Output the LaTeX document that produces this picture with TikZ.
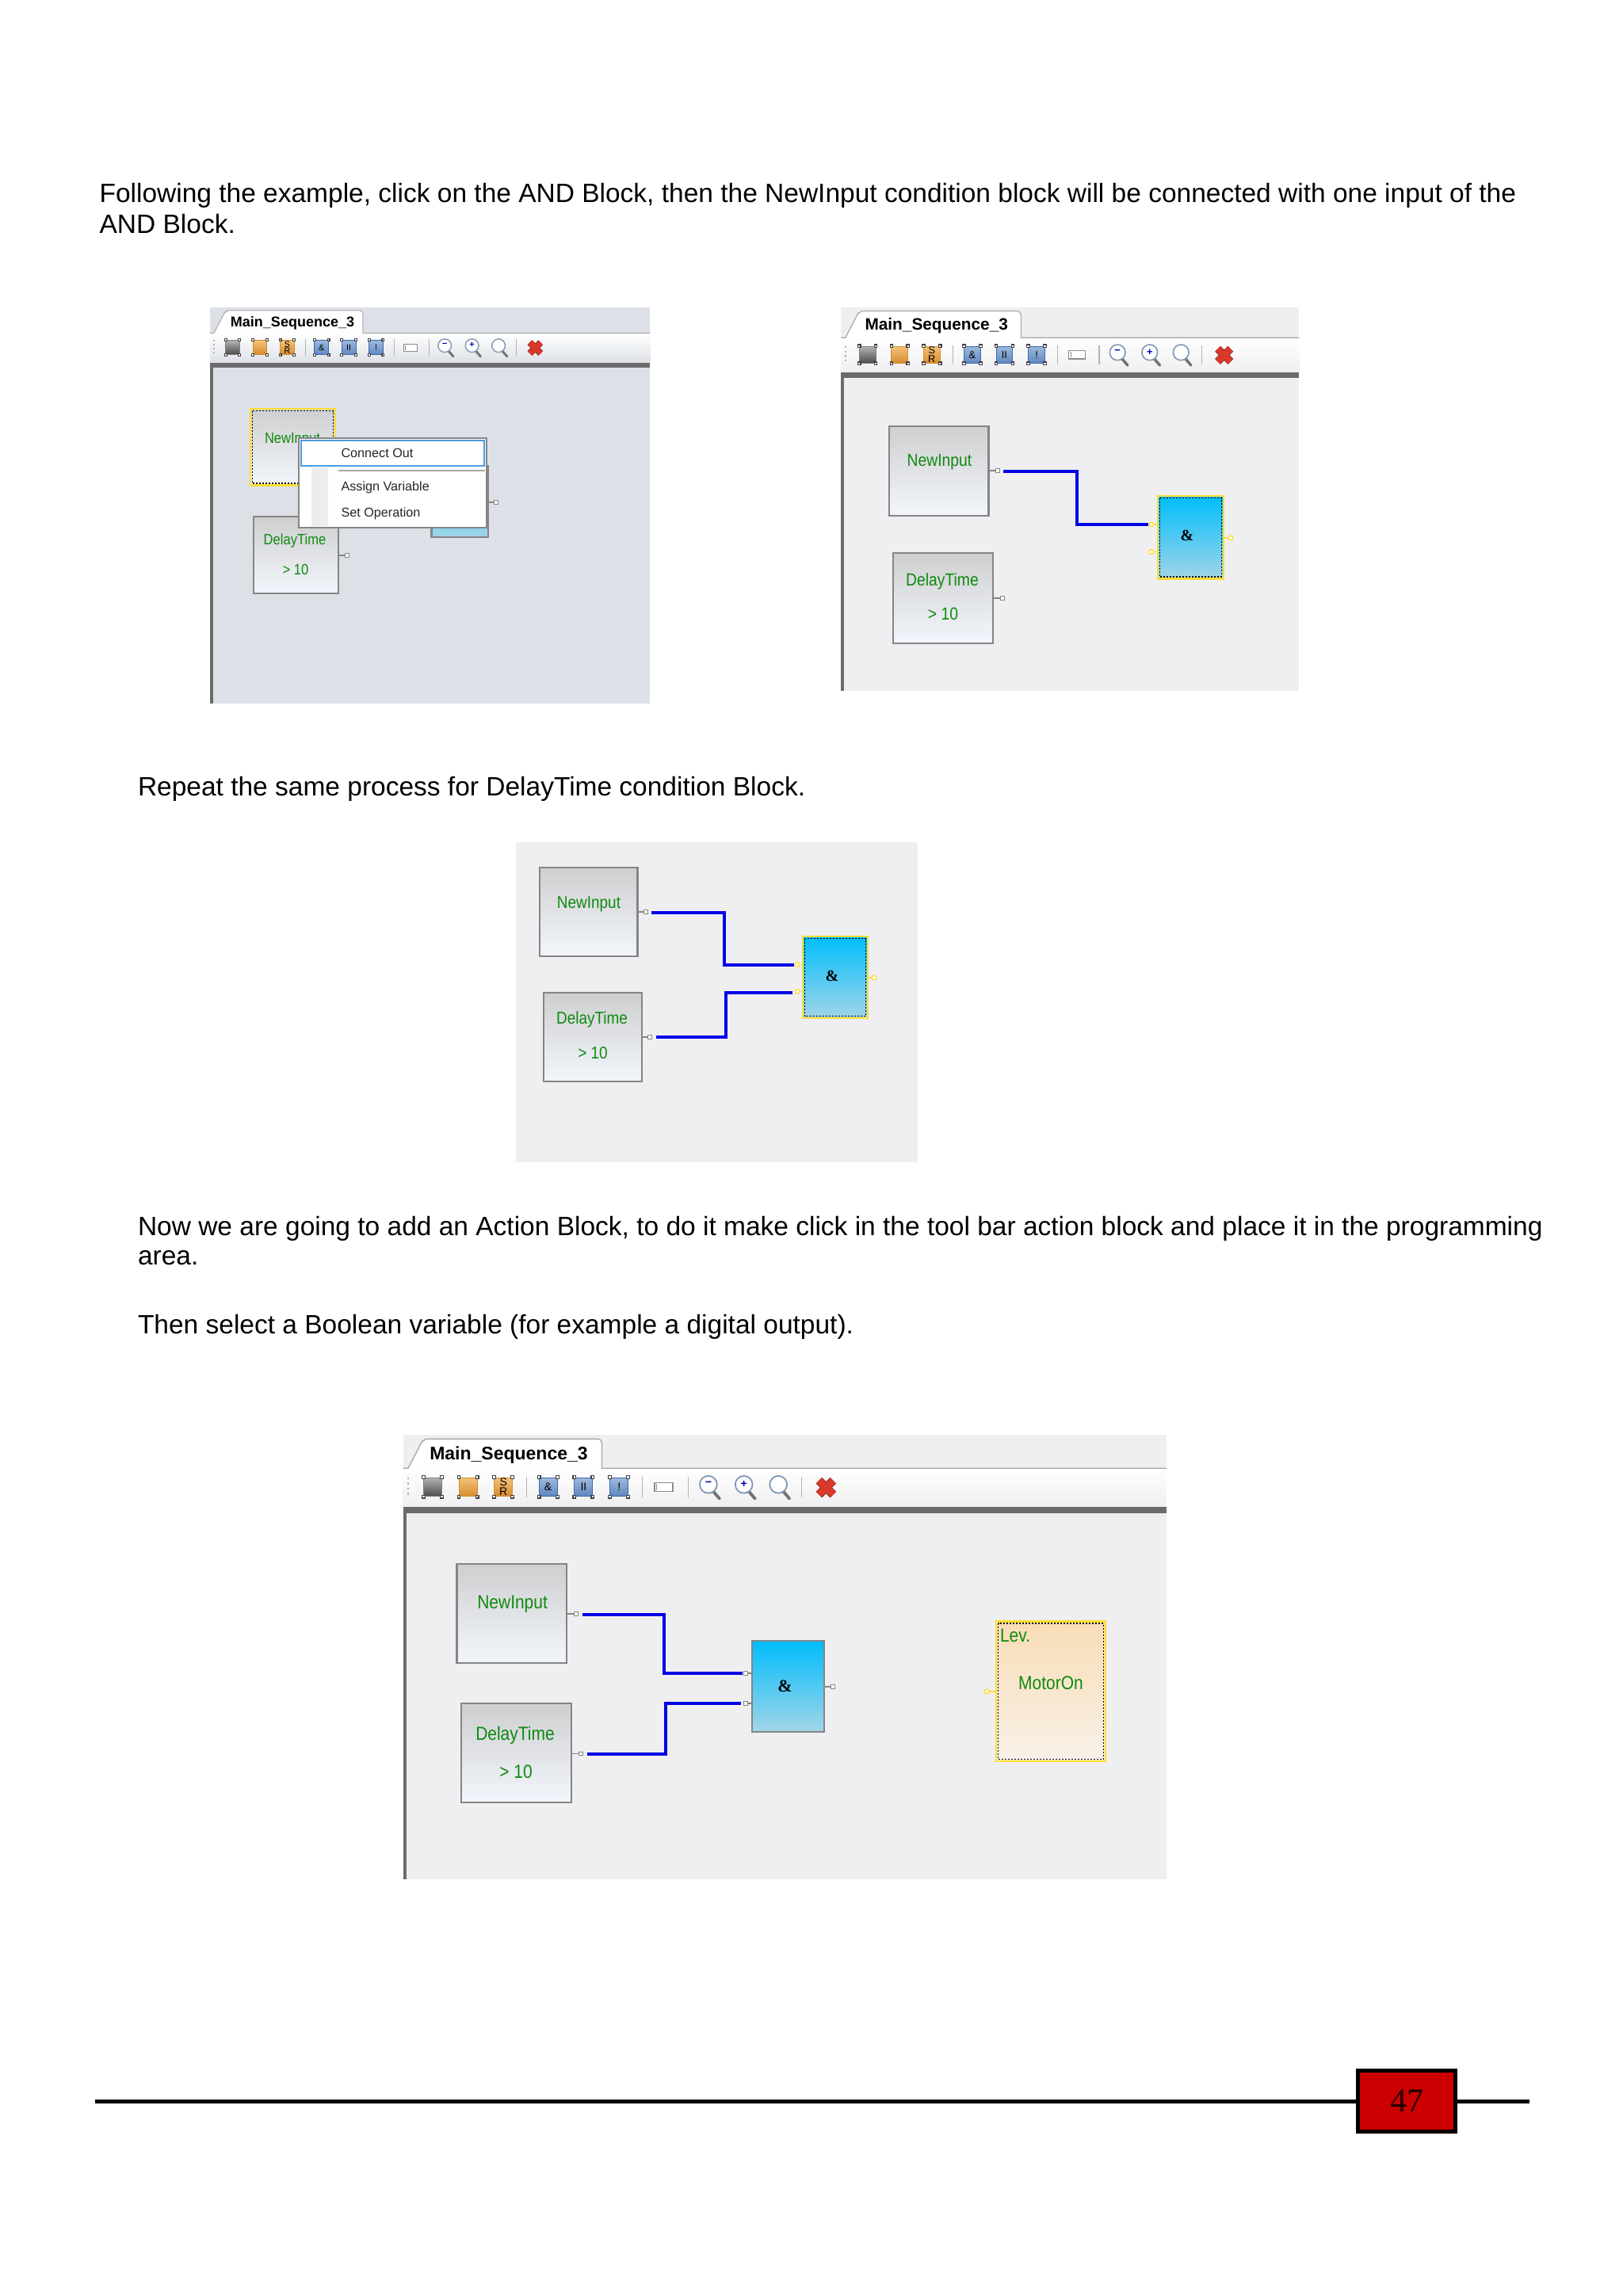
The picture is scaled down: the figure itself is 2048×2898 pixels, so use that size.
\documentclass[tikz,border=0pt]{standalone}
\usepackage{fontspec}
\setmainfont{Liberation Sans}
\newfontfamily\serifnum{Liberation Serif}
\usetikzlibrary{calc}
\definecolor{canvasA}{HTML}{DDE1E7}
\definecolor{canvasB}{HTML}{EFEFF1}
\definecolor{barGrey}{HTML}{6B6B6D}
\definecolor{edgeGrey}{HTML}{858585}
\definecolor{lineGrey}{HTML}{A5A5A5}
\definecolor{labGreen}{HTML}{0F8A0F}
\definecolor{wireBlue}{HTML}{0000E6}
\definecolor{selYellow}{HTML}{FFDD33}
\definecolor{andTop}{HTML}{00BDFC}
\definecolor{andBot}{HTML}{A2D5E8}
\definecolor{condTop}{HTML}{CFCFD0}
\definecolor{condBot}{HTML}{F2F6FC}
\definecolor{actTop}{HTML}{F8DDB6}
\definecolor{actBot}{HTML}{F8F1E8}
\definecolor{pageRed}{HTML}{CC0000}
\definecolor{menuBlue}{HTML}{4A9BE0}
\definecolor{crossRed}{HTML}{D8392B}
\definecolor{magBlue}{HTML}{7F98B5}
\definecolor{iconOrTop}{HTML}{F2C27A}
\definecolor{iconOrBot}{HTML}{D68C2E}
\definecolor{iconBlTop}{HTML}{9DB9DC}
\definecolor{iconBlBot}{HTML}{5F88BE}
\definecolor{iconBlEdge}{HTML}{3F66B0}
\tikzset{
  x=0.5pt,y=-0.5pt,
  para/.style={anchor=base west,inner sep=0,outer sep=0,font=\fontsize{16.75}{20}\selectfont},
  blockbase/.style={rectangle,inner sep=0,outer sep=0,line width=1.1pt},
  condblock/.style={blockbase,draw=edgeGrey,top color=condTop,bottom color=condBot},
  condsel/.style={blockbase,draw=selYellow,top color=condTop,bottom color=condBot},
  andblock/.style={blockbase,draw=edgeGrey,top color=andTop,bottom color=andBot},
  andsel/.style={blockbase,draw=selYellow,top color=andTop,bottom color=andBot},
  actsel/.style={blockbase,draw=selYellow,top color=actTop,bottom color=actBot},
  seldots/.style={draw=black,line width=0.8pt,dash pattern=on 1pt off 1pt},
  wire/.style={draw=wireBlue,line width=2pt,line join=miter},
  portg/.style={rectangle,draw=edgeGrey,fill=white,line width=0.6pt,minimum size=2.2pt,inner sep=0},
  porty/.style={circle,draw=selYellow,fill=white,line width=0.7pt,minimum size=2.8pt,inner sep=0},
  plineg/.style={draw=edgeGrey,line width=0.8pt},
  pliney/.style={draw=selYellow,line width=0.8pt},
  lab/.style={inner sep=0,outer sep=0,text=labGreen},
  menutxt/.style={inner sep=0,outer sep=0,anchor=west,text=black!85,font=\fontsize{8.1}{9}\selectfont},
}
\newcommand\myblk[6]{\node[#1,minimum width={(#5-#3)*0.5pt},minimum height={(#6-#4)*0.5pt}] (#2) at ({(#3+#5)/2},{(#4+#6)/2}) {};}
\newcommand\mydots[1]{\draw[seldots] ([xshift=1.3pt,yshift=-1.3pt]#1.north west) rectangle ([xshift=-1.3pt,yshift=1.3pt]#1.south east);}
\newcommand\myport[4]{\node[port#1] (#2) at (#3,#4) {};}
\newcommand\mylab[5]{\node[lab,yshift=-1pt,font=\fontsize{#4}{#4}\selectfont] (#1) at (#2,#3) {\scalebox{.92}[1.05]{#5}};}
\newcommand\myicon[6]{%
  \shade[top color=#3,bottom color=#4] (#2-9,42.5) rectangle (#2+9,60.5);
  \draw[#5,line width=.5pt] (#2-9,42.5) rectangle (#2+9,60.5);
  \foreach \hx in {-9,9}{\foreach \hy in {42,61}{
    \draw[black!75,fill=white,line width=.55pt] (#2+\hx-1.5,\hy-1.5) rectangle (#2+\hx+1.5,\hy+1.5);}}
  \node[inner sep=0,text=black,align=center,font=\fontsize{\myfs}{\myfs}\selectfont] (#1) at (#2,51.5) {#6};
}
\newcommand\mymag[3]{%
  \draw[black!55,line width=\mys*1.5pt,line cap=round] (#2+4,56) -- (#2+10,63);
  \draw[magBlue,fill=white,line width=\mys*.7pt] (#2-1,49) circle (8.5);
  \node[inner sep=0,text=blue!70!black,font=\bfseries\fontsize{\myfs}{\myfs}\selectfont] (#1) at (#2-1,48.5) {#3};
}
\newcommand\mychrome[9]{%
\begin{scope}[shift={(#2,#3)},x=#6pt,y=-#6pt]
  \pgfmathsetmacro\mys{#6/0.5}
  \pgfmathsetmacro\myfs{5.5*\mys}
  \fill[#7] (0,0) rectangle (#4,#5);
  \shade[top color=white,bottom color=#9] (0,33) rectangle (#4,71);
  \fill[white] (0,33) -- (5,33) -- (19,6) to[out=-60,in=180] (23,4) -- (192,4) to[out=0,in=90] (196,8) -- (196,33) -- cycle;
  \draw[lineGrey,line width=\mys*.5pt] (0,33) -- (5,33) -- (19,6) to[out=-60,in=180] (23,4) -- (192,4) to[out=0,in=90] (196,8) -- (196,33) -- (#4,33);
  \node[inner sep=0,anchor=west,text=black,yshift=-1pt,font=\bfseries\fontsize{#8}{#8}\selectfont] (#1title) at (26,18.5) {Main\_Sequence\_3};
  \foreach \gy in {42,47,52,57}{\fill[black!30] (4,\gy) rectangle (6,\gy+2);}
  \foreach \sx in {122,236,281,393}{\draw[black!30,line width=\mys*.5pt] (\sx,41) -- (\sx,62);}
  \myicon{#1ia}{29}{black!30}{black!70}{black!50}{}
  \myicon{#1ib}{64}{iconOrTop}{iconOrBot}{iconOrBot}{}
  \myicon{#1ic}{99}{iconOrTop}{iconOrBot}{iconOrBot}{\fontsize{\myfs}{\myfs}\selectfont S\\[-1pt]R}
  \myicon{#1id}{143}{iconBlTop}{iconBlBot}{iconBlEdge}{\&}
  \myicon{#1ie}{178}{iconBlTop}{iconBlBot}{iconBlEdge}{II}
  \myicon{#1if}{213}{iconBlTop}{iconBlBot}{iconBlEdge}{!}
  \draw[black!45,fill=white,line width=\mys*.5pt] (248,47) rectangle (266,56);
  \draw[black!45,line width=\mys*.4pt] (250,48.5) -- (250,54.5);
  \mymag{#1ma}{302}{\textminus}
  \mymag{#1mb}{337}{+}
  \mymag{#1mc}{371}{}
  \draw[crossRed!70!black,line width=\mys*4.2pt] (410,45) -- (424,59) (424,45) -- (410,59);
  \draw[crossRed,line width=\mys*3.4pt] (410,45) -- (424,59) (424,45) -- (410,59);
  \fill[barGrey] (0,71) rectangle (#4,77);
  \fill[barGrey] (0,71) rectangle (3.6,#5);
\end{scope}}
\begin{document}
\begin{tikzpicture}
\useasboundingbox (0,0) rectangle (2048,2898);
\fill[white] (0,0) rectangle (2048,2898);

\node[para] (t1) at (125.6,255) {Following the example, click on the AND Block, then the NewInput condition block will be connected with one input of the};
\node[para] (t2) at (125.6,294) {AND Block.};
\node[para] (t3) at (174,1004) {Repeat the same process for DelayTime condition Block.};
\node[para] (t4) at (174,1559) {Now we are going to add an Action Block, to do it make click in the tool bar action block and place it in the programming};
\node[para] (t5) at (174,1596) {area.};
\node[para] (t6) at (174,1683) {Then select a Boolean variable (for example a digital output).};

% --- screenshot 1
\mychrome{a}{265}{388}{564.5}{508.6}{0.492}{canvasA}{9}{canvasA}
\myblk{condsel}{a1}{316}{516}{423}{612.5}
\mydots{a1}
\node[lab,anchor=west,yshift=-1pt,font=\fontsize{9}{9}\selectfont] (a1t) at (334,553) {\scalebox{.92}[1.05]{NewInput}};
\myblk{condblock}{a2}{320}{652}{427}{749}
\mylab{a2t}{372}{681}{9}{DelayTime}
\mylab{a2u}{373}{717}{9}{> 10}
\myport{g}{a2p}{438}{701}
\draw[plineg] (a2.east |- a2p) -- (a2p);
\myblk{andblock}{a3}{544.5}{588}{616}{678}
\myport{g}{a3p}{626}{634}
\draw[plineg] (a3.east |- a3p) -- (a3p);
\myblk{blockbase,draw=edgeGrey,fill=white}{am}{377}{553}{614}{666}
\fill[black!7] (393,590) rectangle (414,664);
\myblk{blockbase,draw=menuBlue,fill=white,line width=.8pt}{amh}{380}{556}{611}{588}
\coordinate (as1) at (427,594);
\coordinate (as2) at (612,594);
\draw[lineGrey,line width=.7pt] (as1) -- (as2);
\node[menutxt] (amc) at (430.5,572) {Connect Out};
\node[menutxt] (ama) at (430.5,615.5) {Assign Variable};
\node[menutxt] (ams) at (430.5,648.5) {Set Operation};

% --- screenshot 2
\mychrome{b}{1061}{388}{498.5}{417}{0.58}{canvasB}{10.4}{canvasB}
\myblk{condblock}{b1}{1122}{537.6}{1247.5}{651}
\mylab{b1t}{1185.5}{581}{10.5}{NewInput}
\myblk{condblock}{b2}{1127}{698}{1253}{811.6}
\mylab{b2t}{1189}{732}{10.5}{DelayTime}
\mylab{b2u}{1190}{773}{10.5}{> 10}
\myblk{andsel}{b3}{1461}{626}{1544}{730.5}
\mydots{b3}
\node[inner sep=0,font=\serifnum\bfseries\fontsize{10}{10}\selectfont] (b3t) at (1498,676) {\&};
\myport{g}{b1p}{1259}{594}
\draw[plineg] (b1.east |- b1p) -- (b1p);
\myport{g}{b2p}{1265}{755}
\draw[plineg] (b2.east |- b2p) -- (b2p);
\myport{y}{b3a}{1453}{662}
\draw[pliney] (b3.west |- b3a) -- (b3a);
\myport{y}{b3b}{1453}{696.5}
\draw[pliney] (b3.west |- b3b) -- (b3b);
\myport{y}{b3o}{1553}{679}
\draw[pliney] (b3.east |- b3o) -- (b3o);
\coordinate (bw1) at (1266,595);
\coordinate (bw2) at (1449,662);
\coordinate (bwm) at (1359,627);
\draw[wire] (bw1) -- (bw1 -| bwm) -- (bw2 -| bwm) -- (bw2);

% --- screenshot 3
\fill[canvasB] (651,1063) rectangle (1158,1467);
\myblk{condblock}{c1}{680.6}{1095}{804.5}{1207}
\mylab{c1t}{743}{1139}{10.3}{NewInput}
\myblk{condblock}{c2}{686}{1253}{810}{1365}
\mylab{c2t}{747}{1285}{10.3}{DelayTime}
\mylab{c2u}{748}{1327}{10.3}{> 10}
\myblk{andsel}{c3}{1013}{1182}{1095}{1285}
\mydots{c3}
\node[inner sep=0,font=\serifnum\bfseries\fontsize{10}{10}\selectfont] (c3t) at (1050,1232) {\&};
\myport{g}{c1p}{815}{1151}
\draw[plineg] (c1.east |- c1p) -- (c1p);
\myport{g}{c2p}{820}{1309}
\draw[plineg] (c2.east |- c2p) -- (c2p);
\myport{y}{c3a}{1006}{1217.5}
\draw[pliney] (c3.west |- c3a) -- (c3a);
\myport{y}{c3b}{1006}{1251.5}
\draw[pliney] (c3.west |- c3b) -- (c3b);
\myport{y}{c3o}{1103}{1234}
\draw[pliney] (c3.east |- c3o) -- (c3o);
\coordinate (cw1) at (822.4,1152);
\coordinate (cw2) at (1002,1218);
\coordinate (cwm) at (914,1185);
\draw[wire] (cw1) -- (cw1 -| cwm) -- (cw2 -| cwm) -- (cw2);
\coordinate (cx1) at (827.6,1309);
\coordinate (cx2) at (1000,1252.5);
\coordinate (cxm) at (916,1280);
\draw[wire] (cx1) -- (cx1 -| cxm) -- (cx2 -| cxm) -- (cx2);

% --- screenshot 4
\mychrome{d}{508.6}{1811}{752.5}{438.3}{0.64}{canvasB}{11.5}{canvasB}
\myblk{condblock}{d1}{576.5}{1974}{715}{2099}
\mylab{d1t}{646.6}{2023}{11.4}{NewInput}
\myblk{condblock}{d2}{582}{2150}{721}{2275}
\mylab{d2t}{650}{2188}{11.4}{DelayTime}
\mylab{d2u}{651}{2234}{11.4}{> 10}
\myblk{andblock}{d3}{948.7}{2071}{1040}{2186}
\node[inner sep=0,font=\serifnum\bfseries\fontsize{11}{11}\selectfont] (d3t) at (990.5,2128) {\&};
\myblk{actsel}{d4}{1257}{2046.5}{1395}{2223}
\mydots{d4}
\node[lab,anchor=west,yshift=-1pt,font=\fontsize{11.4}{11.4}\selectfont] (d4l) at (1262,2062) {\scalebox{.92}[1.05]{Lev.}};
\mylab{d4t}{1326}{2122}{11.4}{MotorOn}
\myport{g}{d1p}{727}{2037}
\draw[plineg] (d1.east |- d1p) -- (d1p);
\myport{g}{d2p}{733}{2213.5}
\draw[plineg] (d2.east |- d2p) -- (d2p);
\myport{g}{d3a}{941}{2112}
\draw[plineg] (d3.west |- d3a) -- (d3a);
\myport{g}{d3b}{941}{2150}
\draw[plineg] (d3.west |- d3b) -- (d3b);
\myport{g}{d3o}{1051}{2129}
\draw[plineg] (d3.east |- d3o) -- (d3o);
\myport{y}{d4p}{1245}{2135}
\draw[pliney] (d4.west |- d4p) -- (d4p);
\coordinate (dw1) at (734.5,2038);
\coordinate (dw2) at (936.5,2112);
\coordinate (dwm) at (838,2075);
\draw[wire] (dw1) -- (dw1 -| dwm) -- (dw2 -| dwm) -- (dw2);
\coordinate (dx1) at (741,2214);
\coordinate (dx2) at (934.6,2150);
\coordinate (dxm) at (840,2180);
\draw[wire] (dx1) -- (dx1 -| dxm) -- (dx2 -| dxm) -- (dx2);

% --- footer
\coordinate (fl) at (120,2652);
\coordinate (fr) at (1930,2652);
\draw[black,line width=2.5pt] (fl) -- (fr);
\myblk{blockbase,draw=black,fill=pageRed,line width=2.4pt}{pg}{1713.5}{2613.5}{1836.5}{2690.5}
\node[inner sep=0,text=black!85!pageRed,font=\serifnum\fontsize{21}{21}\selectfont] (pgt) at (pg.center) {47};
\end{tikzpicture}
\end{document}
